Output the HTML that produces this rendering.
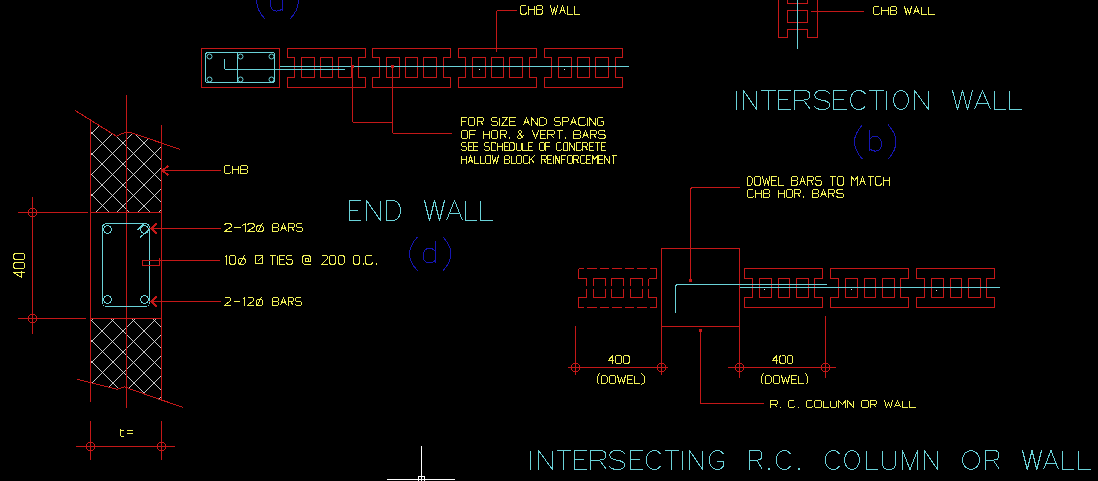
<!DOCTYPE html>
<html><head><meta charset="utf-8"><style>html,body{margin:0;padding:0;background:#000;overflow:hidden;font-family:"Liberation Sans",sans-serif}svg{display:block;will-change:transform}</style></head>
<body><svg width="1098" height="481" viewBox="0 0 1098 481" shape-rendering="crispEdges">
<rect width="1098" height="481" fill="#000"/>
<path d="M264.8,-14.900000000000006C259.3,-8.900000000000006 256.8,-4.050000000000011 256.8,1.9499999999999886C256.8,7.949999999999989 259.3,12.799999999999983 264.8,18.799999999999983M290.3,-14.900000000000006C295.8,-8.900000000000006 298.3,-4.050000000000011 298.3,1.9499999999999886C298.3,7.949999999999989 295.8,12.799999999999983 290.3,18.799999999999983M282.8,-10.900000000000006V10.599999999999994M282.8,-0.4000000000000057C281.3,-2.5999999999999943 278.8,-3.5999999999999943 276.5,-3.5999999999999943C272.8,-3.5999999999999943 270.3,-0.4000000000000057 270.3,3.799999999999983C270.3,8.099999999999994 272.8,11.099999999999994 276.5,11.099999999999994C278.8,11.099999999999994 281.3,10.099999999999994 282.8,7.900000000000006" fill="none" stroke="#1616b4" stroke-width="1" />
<rect x="201.5" y="48.5" width="78" height="39" fill="none" stroke="#c41818"/>
<rect x="205.5" y="52.5" width="69" height="30" rx="2.5" fill="none" stroke="#6ad2d8"/>
<line x1="237.5" y1="52.5" x2="237.5" y2="82.5" stroke="#6ad2d8" stroke-width="1" />
<circle cx="209.5" cy="56.5" r="2.5" fill="none" stroke="#6ad2d8" stroke-width="1" shape-rendering="geometricPrecision"/>
<circle cx="209.5" cy="79.5" r="2.5" fill="none" stroke="#6ad2d8" stroke-width="1" shape-rendering="geometricPrecision"/>
<circle cx="240.5" cy="56.5" r="2.5" fill="none" stroke="#6ad2d8" stroke-width="1" shape-rendering="geometricPrecision"/>
<circle cx="240.5" cy="79.5" r="2.5" fill="none" stroke="#6ad2d8" stroke-width="1" shape-rendering="geometricPrecision"/>
<circle cx="271.5" cy="56.5" r="2.5" fill="none" stroke="#6ad2d8" stroke-width="1" shape-rendering="geometricPrecision"/>
<circle cx="271.5" cy="79.5" r="2.5" fill="none" stroke="#6ad2d8" stroke-width="1" shape-rendering="geometricPrecision"/>
<path d="M287.5,48.5H365.5V57.5H358.5V77.5H365.5V87.5H287.5V77.5H294.5V57.5H287.5ZM301.5,57.5H314.5V77.5H301.5ZM320.5,57.5H332.5V77.5H320.5ZM338.5,57.5H351.5V77.5H338.5Z" fill="none" stroke="#c41818" stroke-width="1" />
<path d="M372.5,48.5H450.5V57.5H443.5V77.5H450.5V87.5H372.5V77.5H379.5V57.5H372.5ZM386.5,57.5H399.5V77.5H386.5ZM405.5,57.5H417.5V77.5H405.5ZM423.5,57.5H436.5V77.5H423.5Z" fill="none" stroke="#c41818" stroke-width="1" />
<path d="M458.5,48.5H536.5V57.5H529.5V77.5H536.5V87.5H458.5V77.5H465.5V57.5H458.5ZM472.5,57.5H485.5V77.5H472.5ZM491.5,57.5H503.5V77.5H491.5ZM509.5,57.5H522.5V77.5H509.5Z" fill="none" stroke="#c41818" stroke-width="1" />
<path d="M544.5,48.5H622.5V57.5H615.5V77.5H622.5V87.5H544.5V77.5H551.5V57.5H544.5ZM558.5,57.5H571.5V77.5H558.5ZM577.5,57.5H589.5V77.5H577.5ZM595.5,57.5H608.5V77.5H595.5Z" fill="none" stroke="#c41818" stroke-width="1" />
<path d="M224.5,59V67Q224.5,69.5 227,69.5H345" fill="none" stroke="#6ad2d8" stroke-width="1" />
<line x1="280" y1="66.5" x2="628.5" y2="66.5" stroke="#6ad2d8" stroke-width="1" />
<circle cx="479.5" cy="69.5" r="0.9" fill="#dedede"/>
<circle cx="564.5" cy="69.5" r="0.9" fill="#dedede"/>
<circle cx="352.5" cy="66.5" r="1.5" fill="#c41818"/>
<circle cx="392.5" cy="66.5" r="1.5" fill="#c41818"/>
<path d="M352.5,66.5V120Q352.5,122.5 355,122.5H392.5" fill="none" stroke="#c41818" stroke-width="1" />
<path d="M392.5,66.5V131Q392.5,133.5 395,133.5H452" fill="none" stroke="#c41818" stroke-width="1" />
<path d="M496.5,52V12.5Q496.5,10.5 498.5,10.5H517" fill="none" stroke="#c41818" stroke-width="1" />
<defs><clipPath id="hu"><path d="M90.5,119.8 L116.5,136.3 Q123,132 130.5,132.5 L161.5,143 V212.5 H90.5Z"/></clipPath><clipPath id="hl"><path d="M90.5,318.5 H161.5 V400.5 L129.9,388.9 L124.9,386.8 L117.4,389.3 L90.5,382.6Z"/></clipPath></defs>
<g clip-path="url(#hu)"><path d="M80,-296.10L170,-206.10M80,-272.30L170,-362.30M80,-275.25L170,-185.25M80,-251.45L170,-341.45M80,-254.40L170,-164.40M80,-230.60L170,-320.60M80,-233.55L170,-143.55M80,-209.75L170,-299.75M80,-212.70L170,-122.70M80,-188.90L170,-278.90M80,-191.85L170,-101.85M80,-168.05L170,-258.05M80,-171.00L170,-81.00M80,-147.20L170,-237.20M80,-150.15L170,-60.15M80,-126.35L170,-216.35M80,-129.30L170,-39.30M80,-105.50L170,-195.50M80,-108.45L170,-18.45M80,-84.65L170,-174.65M80,-87.60L170,2.40M80,-63.80L170,-153.80M80,-66.75L170,23.25M80,-42.95L170,-132.95M80,-45.90L170,44.10M80,-22.10L170,-112.10M80,-25.05L170,64.95M80,-1.25L170,-91.25M80,-4.20L170,85.80M80,19.60L170,-70.40M80,16.65L170,106.65M80,40.45L170,-49.55M80,37.50L170,127.50M80,61.30L170,-28.70M80,58.35L170,148.35M80,82.15L170,-7.85M80,79.20L170,169.20M80,103.00L170,13.00M80,100.05L170,190.05M80,123.85L170,33.85M80,120.90L170,210.90M80,144.70L170,54.70M80,141.75L170,231.75M80,165.55L170,75.55M80,162.60L170,252.60M80,186.40L170,96.40M80,183.45L170,273.45M80,207.25L170,117.25M80,204.30L170,294.30M80,228.10L170,138.10M80,225.15L170,315.15M80,248.95L170,158.95M80,246.00L170,336.00M80,269.80L170,179.80M80,266.85L170,356.85M80,290.65L170,200.65M80,287.70L170,377.70M80,311.50L170,221.50M80,308.55L170,398.55M80,332.35L170,242.35M80,329.40L170,419.40M80,353.20L170,263.20M80,350.25L170,440.25M80,374.05L170,284.05M80,371.10L170,461.10M80,394.90L170,304.90M80,391.95L170,481.95M80,415.75L170,325.75M80,412.80L170,502.80M80,436.60L170,346.60M80,433.65L170,523.65M80,457.45L170,367.45M80,454.50L170,544.50M80,478.30L170,388.30M80,475.35L170,565.35M80,499.15L170,409.15M80,496.20L170,586.20M80,520.00L170,430.00M80,517.05L170,607.05M80,540.85L170,450.85M80,537.90L170,627.90M80,561.70L170,471.70M80,558.75L170,648.75M80,582.55L170,492.55M80,579.60L170,669.60M80,603.40L170,513.40M80,600.45L170,690.45M80,624.25L170,534.25M80,621.30L170,711.30M80,645.10L170,555.10M80,642.15L170,732.15M80,665.95L170,575.95M80,663.00L170,753.00M80,686.80L170,596.80M80,683.85L170,773.85M80,707.65L170,617.65M80,704.70L170,794.70M80,728.50L170,638.50M80,725.55L170,815.55M80,749.35L170,659.35" fill="none" stroke="#dedede" stroke-width="0.9"/></g>
<g clip-path="url(#hl)"><path d="M80,-296.10L170,-206.10M80,-272.30L170,-362.30M80,-275.25L170,-185.25M80,-251.45L170,-341.45M80,-254.40L170,-164.40M80,-230.60L170,-320.60M80,-233.55L170,-143.55M80,-209.75L170,-299.75M80,-212.70L170,-122.70M80,-188.90L170,-278.90M80,-191.85L170,-101.85M80,-168.05L170,-258.05M80,-171.00L170,-81.00M80,-147.20L170,-237.20M80,-150.15L170,-60.15M80,-126.35L170,-216.35M80,-129.30L170,-39.30M80,-105.50L170,-195.50M80,-108.45L170,-18.45M80,-84.65L170,-174.65M80,-87.60L170,2.40M80,-63.80L170,-153.80M80,-66.75L170,23.25M80,-42.95L170,-132.95M80,-45.90L170,44.10M80,-22.10L170,-112.10M80,-25.05L170,64.95M80,-1.25L170,-91.25M80,-4.20L170,85.80M80,19.60L170,-70.40M80,16.65L170,106.65M80,40.45L170,-49.55M80,37.50L170,127.50M80,61.30L170,-28.70M80,58.35L170,148.35M80,82.15L170,-7.85M80,79.20L170,169.20M80,103.00L170,13.00M80,100.05L170,190.05M80,123.85L170,33.85M80,120.90L170,210.90M80,144.70L170,54.70M80,141.75L170,231.75M80,165.55L170,75.55M80,162.60L170,252.60M80,186.40L170,96.40M80,183.45L170,273.45M80,207.25L170,117.25M80,204.30L170,294.30M80,228.10L170,138.10M80,225.15L170,315.15M80,248.95L170,158.95M80,246.00L170,336.00M80,269.80L170,179.80M80,266.85L170,356.85M80,290.65L170,200.65M80,287.70L170,377.70M80,311.50L170,221.50M80,308.55L170,398.55M80,332.35L170,242.35M80,329.40L170,419.40M80,353.20L170,263.20M80,350.25L170,440.25M80,374.05L170,284.05M80,371.10L170,461.10M80,394.90L170,304.90M80,391.95L170,481.95M80,415.75L170,325.75M80,412.80L170,502.80M80,436.60L170,346.60M80,433.65L170,523.65M80,457.45L170,367.45M80,454.50L170,544.50M80,478.30L170,388.30M80,475.35L170,565.35M80,499.15L170,409.15M80,496.20L170,586.20M80,520.00L170,430.00M80,517.05L170,607.05M80,540.85L170,450.85M80,537.90L170,627.90M80,561.70L170,471.70M80,558.75L170,648.75M80,582.55L170,492.55M80,579.60L170,669.60M80,603.40L170,513.40M80,600.45L170,690.45M80,624.25L170,534.25M80,621.30L170,711.30M80,645.10L170,555.10M80,642.15L170,732.15M80,665.95L170,575.95M80,663.00L170,753.00M80,686.80L170,596.80M80,683.85L170,773.85M80,707.65L170,617.65M80,704.70L170,794.70M80,728.50L170,638.50M80,725.55L170,815.55M80,749.35L170,659.35" fill="none" stroke="#dedede" stroke-width="0.9"/></g>
<line x1="90.5" y1="119.8" x2="90.5" y2="401.8" stroke="#c41818" stroke-width="1" />
<line x1="126.5" y1="95" x2="126.5" y2="407.5" stroke="#c41818" stroke-width="1" />
<line x1="161.5" y1="125" x2="161.5" y2="401" stroke="#c41818" stroke-width="1" />
<path d="M75,110.4L116.5,136.3Q123,132 130.5,132.5L180,149.3" fill="none" stroke="#c41818" stroke-width="1" />
<path d="M77.2,379.3L117.4,389.3L124.9,386.8L129.9,388.9L182.9,407.4" fill="none" stroke="#c41818" stroke-width="1" />
<line x1="18" y1="212.5" x2="88" y2="212.5" stroke="#c41818" stroke-width="1" />
<line x1="90.5" y1="212.5" x2="161.5" y2="212.5" stroke="#c41818" stroke-width="1" />
<line x1="18" y1="318.5" x2="86" y2="318.5" stroke="#c41818" stroke-width="1" />
<line x1="90.5" y1="318.5" x2="161.5" y2="318.5" stroke="#c41818" stroke-width="1" />
<line x1="32.5" y1="197" x2="32.5" y2="333.5" stroke="#c41818" stroke-width="1" />
<path d="M36.82,213.36L36.16,214.94L34.94,216.16L33.36,216.82L31.64,216.82L30.06,216.16L28.84,214.94L28.18,213.36L28.18,211.64L28.84,210.06L30.06,208.84L31.64,208.18L33.36,208.18L34.94,208.84L36.16,210.06L36.82,211.64Z" fill="none" stroke="#c41818" stroke-width="1"/>
<path d="M36.82,319.36L36.16,320.94L34.94,322.16L33.36,322.82L31.64,322.82L30.06,322.16L28.84,320.94L28.18,319.36L28.18,317.64L28.84,316.06L30.06,314.84L31.64,314.18L33.36,314.18L34.94,314.84L36.16,316.06L36.82,317.64Z" fill="none" stroke="#c41818" stroke-width="1"/>
<rect x="102.5" y="223.5" width="47" height="83" rx="4" fill="none" stroke="#6ad2d8"/>
<path d="M111.42,230.28L110.83,231.72L109.72,232.83L108.28,233.42L106.72,233.42L105.28,232.83L104.17,231.72L103.58,230.28L103.58,228.72L104.17,227.28L105.28,226.17L106.72,225.58L108.28,225.58L109.72,226.17L110.83,227.28L111.42,228.72Z" fill="none" stroke="#6ad2d8" stroke-width="1"/>
<path d="M111.42,300.28L110.83,301.72L109.72,302.83L108.28,303.42L106.72,303.42L105.28,302.83L104.17,301.72L103.58,300.28L103.58,298.72L104.17,297.28L105.28,296.17L106.72,295.58L108.28,295.58L109.72,296.17L110.83,297.28L111.42,298.72Z" fill="none" stroke="#6ad2d8" stroke-width="1"/>
<path d="M148.42,230.28L147.83,231.72L146.72,232.83L145.28,233.42L143.72,233.42L142.28,232.83L141.17,231.72L140.58,230.28L140.58,228.72L141.17,227.28L142.28,226.17L143.72,225.58L145.28,225.58L146.72,226.17L147.83,227.28L148.42,228.72Z" fill="none" stroke="#6ad2d8" stroke-width="1"/>
<path d="M148.42,300.28L147.83,301.72L146.72,302.83L145.28,303.42L143.72,303.42L142.28,302.83L141.17,301.72L140.58,300.28L140.58,298.72L141.17,297.28L142.28,296.17L143.72,295.58L145.28,295.58L146.72,296.17L147.83,297.28L148.42,298.72Z" fill="none" stroke="#6ad2d8" stroke-width="1"/>
<path d="M140,237.5L149.5,229M137.5,230L143.5,224" fill="none" stroke="#6ad2d8" stroke-width="1" />
<line x1="161.5" y1="170.5" x2="221" y2="170.5" stroke="#c41818" stroke-width="1" />
<path d="M168.5,165.5L162.5,170.5L168.5,175.5" fill="none" stroke="#c41818" stroke-width="2" />
<line x1="150" y1="228.5" x2="221" y2="228.5" stroke="#c41818" stroke-width="1" />
<path d="M157,223.5L151,228.5L157,233.5" fill="none" stroke="#c41818" stroke-width="2" />
<line x1="150" y1="301.5" x2="221" y2="301.5" stroke="#c41818" stroke-width="1" />
<path d="M157,296.5L151,301.5L157,306.5" fill="none" stroke="#c41818" stroke-width="2" />
<path d="M142.5,265.5V260.5H220M142.5,265.5H159.5V257.5" fill="none" stroke="#c41818" stroke-width="1" />
<line x1="76" y1="446.5" x2="175" y2="446.5" stroke="#c41818" stroke-width="1" />
<line x1="90.5" y1="421" x2="90.5" y2="460" stroke="#c41818" stroke-width="1" />
<line x1="161.5" y1="421" x2="161.5" y2="460" stroke="#c41818" stroke-width="1" />
<path d="M94.82,447.36L94.16,448.94L92.94,450.16L91.36,450.82L89.64,450.82L88.06,450.16L86.84,448.94L86.18,447.36L86.18,445.64L86.84,444.06L88.06,442.84L89.64,442.18L91.36,442.18L92.94,442.84L94.16,444.06L94.82,445.64Z" fill="none" stroke="#c41818" stroke-width="1"/>
<path d="M165.82,447.36L165.16,448.94L163.94,450.16L162.36,450.82L160.64,450.82L159.06,450.16L157.84,448.94L157.18,447.36L157.18,445.64L157.84,444.06L159.06,442.84L160.64,442.18L162.36,442.18L163.94,442.84L165.16,444.06L165.82,445.64Z" fill="none" stroke="#c41818" stroke-width="1"/>
<rect x="661.5" y="248.5" width="78" height="78" fill="none" stroke="#c41818"/>
<line x1="661.5" y1="326.5" x2="661.5" y2="374.5" stroke="#c41818" stroke-width="1" />
<line x1="739.5" y1="326.5" x2="739.5" y2="377.5" stroke="#c41818" stroke-width="1" />
<line x1="575.5" y1="326" x2="575.5" y2="374.5" stroke="#c41818" stroke-width="1" />
<line x1="825.5" y1="316" x2="825.5" y2="377.5" stroke="#c41818" stroke-width="1" />
<line x1="568" y1="367.5" x2="668" y2="367.5" stroke="#c41818" stroke-width="1" />
<line x1="728" y1="367.5" x2="836" y2="367.5" stroke="#c41818" stroke-width="1" />
<path d="M579.62,368.32L578.99,369.83L577.83,370.99L576.32,371.62L574.68,371.62L573.17,370.99L572.01,369.83L571.38,368.32L571.38,366.68L572.01,365.17L573.17,364.01L574.68,363.38L576.32,363.38L577.83,364.01L578.99,365.17L579.62,366.68Z" fill="none" stroke="#c41818" stroke-width="1"/>
<path d="M665.62,368.32L664.99,369.83L663.83,370.99L662.32,371.62L660.68,371.62L659.17,370.99L658.01,369.83L657.38,368.32L657.38,366.68L658.01,365.17L659.17,364.01L660.68,363.38L662.32,363.38L663.83,364.01L664.99,365.17L665.62,366.68Z" fill="none" stroke="#c41818" stroke-width="1"/>
<path d="M743.62,368.32L742.99,369.83L741.83,370.99L740.32,371.62L738.68,371.62L737.17,370.99L736.01,369.83L735.38,368.32L735.38,366.68L736.01,365.17L737.17,364.01L738.68,363.38L740.32,363.38L741.83,364.01L742.99,365.17L743.62,366.68Z" fill="none" stroke="#c41818" stroke-width="1"/>
<path d="M829.62,368.32L828.99,369.83L827.83,370.99L826.32,371.62L824.68,371.62L823.17,370.99L822.01,369.83L821.38,368.32L821.38,366.68L822.01,365.17L823.17,364.01L824.68,363.38L826.32,363.38L827.83,364.01L828.99,365.17L829.62,366.68Z" fill="none" stroke="#c41818" stroke-width="1"/>
<path d="M578.5,268.5H656.5" fill="none" stroke="#c41818" stroke-width="1" stroke-dasharray="9.5 3" stroke-dashoffset="4"/>
<path d="M578.5,307.5H656.5" fill="none" stroke="#c41818" stroke-width="1" stroke-dasharray="9.5 3" stroke-dashoffset="4"/>
<path d="M656.5,268.5V278.5H648.5M656.5,307.5V297.5H648.5M578.5,268.5V278.5H586.5M578.5,307.5V297.5H586.5M586.5,278.5V286.0M586.5,289.0V297.5M648.5,278.5V286.0M648.5,289.0V297.5M593.5,286.0V278.5H605.5V286.0M593.5,289.0V297.5H605.5V289.0M611.5,286.0V278.5H623.5V286.0M611.5,289.0V297.5H623.5V289.0M630.5,286.0V278.5H642.5V286.0M630.5,289.0V297.5H642.5V289.0" fill="none" stroke="#c41818" stroke-width="1" />
<path d="M744.5,268.5H822.5V278.5H814.5V297.5H822.5V307.5H744.5V297.5H752.5V278.5H744.5ZM759.5,278.5H771.5V297.5H759.5ZM778.5,278.5H789.5V297.5H778.5ZM796.5,278.5H808.5V297.5H796.5Z" fill="none" stroke="#c41818" stroke-width="1" />
<path d="M830.5,268.5H908.5V278.5H900.5V297.5H908.5V307.5H830.5V297.5H838.5V278.5H830.5ZM845.5,278.5H857.5V297.5H845.5ZM864.5,278.5H875.5V297.5H864.5ZM882.5,278.5H894.5V297.5H882.5Z" fill="none" stroke="#c41818" stroke-width="1" />
<path d="M916.5,268.5H994.5V278.5H986.5V297.5H994.5V307.5H916.5V297.5H924.5V278.5H916.5ZM931.5,278.5H943.5V297.5H931.5ZM950.5,278.5H961.5V297.5H950.5ZM968.5,278.5H980.5V297.5H968.5Z" fill="none" stroke="#c41818" stroke-width="1" />
<path d="M675.5,313V287Q675.5,284.5 678,284.5H826.8" fill="none" stroke="#6ad2d8" stroke-width="1" />
<line x1="740" y1="287.5" x2="1000" y2="287.5" stroke="#6ad2d8" stroke-width="1" />
<circle cx="764.5" cy="289.5" r="0.9" fill="#dedede"/>
<circle cx="851.5" cy="289.5" r="0.9" fill="#dedede"/>
<circle cx="936.5" cy="290.5" r="0.9" fill="#dedede"/>
<circle cx="690.5" cy="280.5" r="1.5" fill="#c41818"/>
<path d="M690.5,280.5V190Q690.5,187.5 693,187.5H739.5" fill="none" stroke="#c41818" stroke-width="1" />
<circle cx="700.5" cy="330.5" r="1.5" fill="#c41818"/>
<path d="M700.5,330.5V403.5H764" fill="none" stroke="#c41818" stroke-width="1" />
<path d="M778.5,-1V37.5H787.5V29.5H807.5V37.5H817.5V-1" fill="none" stroke="#c41818" stroke-width="1" />
<path d="M787.5,10.5H807.5V22.5H787.5ZM787.5,-2V3.5H807.5V-2" fill="none" stroke="#c41818" stroke-width="1" />
<line x1="797.5" y1="0" x2="797.5" y2="48.5" stroke="#6ad2d8" stroke-width="1" />
<line x1="811" y1="11.5" x2="864" y2="11.5" stroke="#c41818" stroke-width="1" />
<path d="M736.50,90.50L736.50,109.50M743.50,109.50L743.50,90.50L756.50,109.50L756.50,90.50M760.50,90.50L775.50,90.50M768.00,90.50L768.00,109.50M790.50,90.50L778.50,90.50L778.50,109.50L790.50,109.50M778.50,99.62L788.10,99.62M794.50,109.50L794.50,90.50L804.42,90.50C808.26,90.50 809.70,92.59 809.70,95.25C809.70,97.91 808.26,100.00 804.42,100.00L794.50,100.00M803.30,100.00L810.50,109.50M829.50,93.54C828.00,91.45 825.30,90.50 822.00,90.50C817.50,90.50 814.80,92.40 814.80,95.44C814.80,98.48 817.50,99.43 822.00,100.19C826.80,100.95 829.50,102.28 829.50,104.94C829.50,107.98 826.20,109.50 822.00,109.50C818.10,109.50 815.70,108.17 814.50,106.27M846.50,90.50L833.50,90.50L833.50,109.50L846.50,109.50M833.50,99.62L843.90,99.62M865.50,94.30C864.00,91.64 861.60,90.50 858.60,90.50C853.80,90.50 850.50,94.68 850.50,100.00C850.50,105.32 853.80,109.50 858.60,109.50C861.60,109.50 864.00,108.36 865.50,105.70M868.50,90.50L883.50,90.50M876.00,90.50L876.00,109.50M886.50,90.50L886.50,109.50M901.00,90.50C896.86,90.50 893.50,94.75 893.50,100.00C893.50,105.25 896.86,109.50 901.00,109.50C905.14,109.50 908.50,105.25 908.50,100.00C908.50,94.75 905.14,90.50 901.00,90.50M914.50,109.50L914.50,90.50L928.50,109.50L928.50,90.50M952.50,90.50L957.50,109.50L962.50,90.50L967.50,109.50L972.50,90.50M974.50,109.50L982.50,90.50L990.50,109.50M977.54,103.23L987.46,103.23M994.50,90.50L994.50,109.50L1005.50,109.50M1009.50,90.50L1009.50,109.50L1021.50,109.50M360.50,200.50L349.50,200.50L349.50,220.50L360.50,220.50M349.50,210.10L358.30,210.10M366.50,220.50L366.50,200.50L380.50,220.50L380.50,200.50M386.50,200.50L386.50,220.50L392.38,220.50C397.70,220.50 400.50,216.10 400.50,210.50C400.50,204.90 397.70,200.50 392.38,200.50ZM424.50,200.50L429.50,220.50L434.50,200.50L439.50,220.50L444.50,200.50M446.50,220.50L454.50,200.50L462.50,220.50M449.54,213.90L459.46,213.90M465.50,200.50L465.50,220.50L476.50,220.50M480.50,200.50L480.50,220.50L492.50,220.50M530.50,450.50L530.50,469.50M538.50,469.50L538.50,450.50L552.50,469.50L552.50,450.50M556.50,450.50L570.50,450.50M563.50,450.50L563.50,469.50M586.50,450.50L574.50,450.50L574.50,469.50L586.50,469.50M574.50,459.62L584.10,459.62M590.50,469.50L590.50,450.50L600.42,450.50C604.26,450.50 605.70,452.59 605.70,455.25C605.70,457.91 604.26,460.00 600.42,460.00L590.50,460.00M599.30,460.00L606.50,469.50M624.50,453.54C623.00,451.45 620.30,450.50 617.00,450.50C612.50,450.50 609.80,452.40 609.80,455.44C609.80,458.48 612.50,459.43 617.00,460.19C621.80,460.95 624.50,462.28 624.50,464.94C624.50,467.98 621.20,469.50 617.00,469.50C613.10,469.50 610.70,468.17 609.50,466.27M642.50,450.50L630.50,450.50L630.50,469.50L642.50,469.50M630.50,459.62L640.10,459.62M660.50,454.30C659.10,451.64 656.86,450.50 654.06,450.50C649.58,450.50 646.50,454.68 646.50,460.00C646.50,465.32 649.58,469.50 654.06,469.50C656.86,469.50 659.10,468.36 660.50,465.70M664.50,450.50L678.50,450.50M671.50,450.50L671.50,469.50M682.50,450.50L682.50,469.50M689.50,469.50L689.50,450.50L702.50,469.50L702.50,450.50M723.50,454.30C722.10,451.64 719.86,450.50 717.06,450.50C712.58,450.50 709.50,454.68 709.50,460.00C709.50,465.32 712.58,469.50 717.06,469.50C719.86,469.50 722.10,468.36 723.50,465.70L723.50,461.90L716.50,461.90M749.50,469.50L749.50,450.50L757.56,450.50C760.68,450.50 761.85,452.59 761.85,455.25C761.85,457.91 760.68,460.00 757.56,460.00L749.50,460.00M756.65,460.00L762.50,469.50M768.10,468.90a1,1 0 1,0 2,0a1,1 0 1,0 -2,0M790.50,454.30C789.10,451.64 786.86,450.50 784.06,450.50C779.58,450.50 776.50,454.68 776.50,460.00C776.50,465.32 779.58,469.50 784.06,469.50C786.86,469.50 789.10,468.36 790.50,465.70M798.10,468.90a1,1 0 1,0 2,0a1,1 0 1,0 -2,0M839.50,454.30C838.10,451.64 835.86,450.50 833.06,450.50C828.58,450.50 825.50,454.68 825.50,460.00C825.50,465.32 828.58,469.50 833.06,469.50C835.86,469.50 838.10,468.36 839.50,465.70M852.00,450.50C847.86,450.50 844.50,454.75 844.50,460.00C844.50,465.25 847.86,469.50 852.00,469.50C856.14,469.50 859.50,465.25 859.50,460.00C859.50,454.75 856.14,450.50 852.00,450.50M866.50,450.50L866.50,469.50L877.50,469.50M882.50,450.50L882.50,463.42C882.50,467.60 885.10,469.50 889.00,469.50C892.90,469.50 895.50,467.60 895.50,463.42L895.50,450.50M902.50,469.50L902.50,450.50L910.00,469.50L917.50,450.50L917.50,469.50M924.50,469.50L924.50,450.50L937.50,469.50L937.50,450.50M971.00,450.50C966.31,450.50 962.50,454.75 962.50,460.00C962.50,465.25 966.31,469.50 971.00,469.50C975.69,469.50 979.50,465.25 979.50,460.00C979.50,454.75 975.69,450.50 971.00,450.50M985.50,469.50L985.50,450.50L994.18,450.50C997.54,450.50 998.80,452.59 998.80,455.25C998.80,457.91 997.54,460.00 994.18,460.00L985.50,460.00M993.20,460.00L999.50,469.50M1022.50,450.50L1027.25,469.50L1032.00,450.50L1036.75,469.50L1041.50,450.50M1043.50,469.50L1051.00,450.50L1058.50,469.50M1046.35,463.23L1055.65,463.23M1062.50,450.50L1062.50,469.50L1073.50,469.50M1078.50,450.50L1078.50,469.50L1090.50,469.50" fill="none" stroke="#6ad2d8" stroke-width="1" stroke-linejoin="round"/>
<path d="M417.5,237C412.0,243 409.5,247.85 409.5,253.85C409.5,259.85 412.0,264.7 417.5,270.7M443,237C448.5,243 451,247.85 451,253.85C451,259.85 448.5,264.7 443,270.7M435.5,241V262.5M435.5,251.5C434,249.3 431.5,248.3 429.2,248.3C425.5,248.3 423,251.5 423,255.7C423,260 425.5,263 429.2,263C431.5,263 434,262 435.5,259.8" fill="none" stroke="#1616b4" stroke-width="1" />
<path d="M862.5,124.6C857.0,130.6 854.5,135.89999999999998 854.5,141.89999999999998C854.5,147.89999999999998 857.0,153.2 862.5,159.2M888,124.6C893.5,130.6 896,135.89999999999998 896,141.89999999999998C896,147.89999999999998 893.5,153.2 888,159.2M869.5,130.2V151.2M869.5,139.3C871,137.3 873.2,136.3 875.5,136.3C879,136.3 881.5,139.5 881.5,143.7C881.5,148 879,151.2 875.5,151.2C873.2,151.2 871,150.3 869.5,148.3" fill="none" stroke="#1616b4" stroke-width="1" />
<path d="M526.5,6.5L525.5,5.5L521.5,5.5L520.5,6.5L520.5,12.5L521.5,14.5L525.5,14.5L526.5,12.5M528.5,5.5L528.5,14.5M534.5,5.5L534.5,14.5M528.5,9.5L534.5,9.5M536.5,5.5L541.5,5.5L542.5,6.5L542.5,8.5L541.5,9.5L536.5,9.5M541.5,9.5L542.5,10.5L542.5,12.5L541.5,14.5L536.5,14.5L536.5,5.5M550.5,5.5L552.5,14.5L554.5,7.5L555.5,14.5L557.5,5.5M559.5,14.5L562.5,5.5L565.5,14.5M560.5,10.5L564.5,10.5M567.5,5.5L567.5,14.5L572.5,14.5M574.5,5.5L574.5,14.5L579.5,14.5M466.5,117.5L461.5,117.5L461.5,125.5M461.5,121.5L465.5,121.5M469.5,117.5L473.5,117.5L474.5,118.5L474.5,124.5L473.5,125.5L469.5,125.5L468.5,124.5L468.5,118.5L469.5,117.5M477.5,125.5L477.5,117.5L482.5,117.5L483.5,118.5L483.5,120.5L482.5,121.5L477.5,121.5M480.5,121.5L483.5,125.5M497.5,118.5L496.5,117.5L492.5,117.5L491.5,118.5L491.5,120.5L492.5,121.5L496.5,121.5L497.5,122.5L497.5,124.5L496.5,125.5L492.5,125.5L491.5,124.5M499.5,117.5L499.5,125.5M501.5,117.5L507.5,117.5L501.5,125.5L507.5,125.5M515.5,117.5L509.5,117.5L509.5,125.5L515.5,125.5M509.5,121.5L514.5,121.5M523.5,125.5L526.5,117.5L529.5,125.5M524.5,122.5L528.5,122.5M531.5,125.5L531.5,117.5L537.5,125.5L537.5,117.5M539.5,117.5L543.5,117.5L546.5,119.5L546.5,123.5L543.5,125.5L539.5,125.5L539.5,117.5M560.5,118.5L559.5,117.5L555.5,117.5L554.5,118.5L554.5,120.5L555.5,121.5L559.5,121.5L560.5,122.5L560.5,124.5L559.5,125.5L555.5,125.5L554.5,124.5M562.5,125.5L562.5,117.5L567.5,117.5L568.5,118.5L568.5,120.5L567.5,121.5L562.5,121.5M570.5,125.5L573.5,117.5L576.5,125.5M571.5,122.5L575.5,122.5M585.5,118.5L584.5,117.5L580.5,117.5L578.5,118.5L578.5,124.5L580.5,125.5L584.5,125.5L585.5,124.5M587.5,117.5L587.5,125.5M589.5,125.5L589.5,117.5L595.5,125.5L595.5,117.5M603.5,118.5L602.5,117.5L598.5,117.5L597.5,118.5L597.5,124.5L598.5,125.5L602.5,125.5L603.5,124.5L603.5,121.5L600.5,121.5M462.5,130.5L466.5,130.5L467.5,131.5L467.5,137.5L466.5,138.5L462.5,138.5L461.5,137.5L461.5,131.5L462.5,130.5M475.5,130.5L469.5,130.5L469.5,138.5M469.5,134.5L474.5,134.5M483.5,130.5L483.5,138.5M489.5,130.5L489.5,138.5M483.5,134.5L489.5,134.5M492.5,130.5L496.5,130.5L497.5,131.5L497.5,137.5L496.5,138.5L492.5,138.5L491.5,137.5L491.5,131.5L492.5,130.5M500.5,138.5L500.5,130.5L505.5,130.5L506.5,131.5L506.5,133.5L505.5,134.5L500.5,134.5M503.5,134.5L506.5,138.5M508.5,137.5L509.5,137.5L509.5,138.5L508.5,138.5M523.5,138.5L518.5,132.5L518.5,131.5L519.5,130.5L520.5,130.5L521.5,131.5L521.5,132.5L517.5,136.5L517.5,137.5L518.5,138.5L520.5,138.5L523.5,135.5M532.5,130.5L535.5,138.5L538.5,130.5M545.5,130.5L540.5,130.5L540.5,138.5L545.5,138.5M540.5,134.5L544.5,134.5M547.5,138.5L547.5,130.5L553.5,130.5L554.5,131.5L554.5,133.5L553.5,134.5L547.5,134.5M550.5,134.5L554.5,138.5M556.5,130.5L562.5,130.5M559.5,130.5L559.5,138.5M564.5,137.5L565.5,137.5L565.5,138.5L564.5,138.5M573.5,130.5L579.5,130.5L580.5,131.5L580.5,133.5L579.5,134.5L573.5,134.5M579.5,134.5L580.5,135.5L580.5,137.5L579.5,138.5L573.5,138.5L573.5,130.5M582.5,138.5L585.5,130.5L588.5,138.5M583.5,135.5L587.5,135.5M590.5,138.5L590.5,130.5L595.5,130.5L596.5,131.5L596.5,133.5L595.5,134.5L590.5,134.5M593.5,134.5L596.5,138.5M605.5,131.5L603.5,130.5L599.5,130.5L598.5,131.5L598.5,133.5L599.5,134.5L603.5,134.5L605.5,135.5L605.5,137.5L603.5,138.5L599.5,138.5L598.5,137.5M466.5,143.5L465.5,142.5L462.5,142.5L461.5,143.5L461.5,145.5L462.5,146.5L465.5,146.5L466.5,147.5L466.5,149.5L465.5,150.5L462.5,150.5L461.5,149.5M472.5,142.5L468.5,142.5L468.5,150.5L472.5,150.5M468.5,146.5L471.5,146.5M477.5,142.5L473.5,142.5L473.5,150.5L477.5,150.5M473.5,146.5L477.5,146.5M489.5,143.5L488.5,142.5L485.5,142.5L484.5,143.5L484.5,145.5L485.5,146.5L488.5,146.5L489.5,147.5L489.5,149.5L488.5,150.5L485.5,150.5L484.5,149.5M495.5,143.5L495.5,142.5L491.5,142.5L491.5,143.5L491.5,149.5L491.5,150.5L495.5,150.5L495.5,149.5M497.5,142.5L497.5,150.5M502.5,142.5L502.5,150.5M497.5,146.5L502.5,146.5M508.5,142.5L504.5,142.5L504.5,150.5L508.5,150.5M504.5,146.5L507.5,146.5M509.5,142.5L513.5,142.5L514.5,144.5L514.5,148.5L513.5,150.5L509.5,150.5L509.5,142.5M516.5,142.5L516.5,149.5L517.5,150.5L520.5,150.5L521.5,149.5L521.5,142.5M522.5,142.5L522.5,150.5L527.5,150.5M532.5,142.5L528.5,142.5L528.5,150.5L532.5,150.5M528.5,146.5L531.5,146.5M540.5,142.5L543.5,142.5L544.5,143.5L544.5,149.5L543.5,150.5L540.5,150.5L539.5,149.5L539.5,143.5L540.5,142.5M549.5,142.5L545.5,142.5L545.5,150.5M545.5,146.5L549.5,146.5M561.5,143.5L560.5,142.5L557.5,142.5L556.5,143.5L556.5,149.5L557.5,150.5L560.5,150.5L561.5,149.5M563.5,142.5L567.5,142.5L567.5,143.5L567.5,149.5L567.5,150.5L563.5,150.5L563.5,149.5L563.5,143.5L563.5,142.5M569.5,150.5L569.5,142.5L574.5,150.5L574.5,142.5M581.5,143.5L580.5,142.5L576.5,142.5L576.5,143.5L576.5,149.5L576.5,150.5L580.5,150.5L581.5,149.5M582.5,150.5L582.5,142.5L586.5,142.5L587.5,143.5L587.5,145.5L586.5,146.5L582.5,146.5M585.5,146.5L587.5,150.5M593.5,142.5L589.5,142.5L589.5,150.5L593.5,150.5M589.5,146.5L592.5,146.5M594.5,142.5L599.5,142.5M597.5,142.5L597.5,150.5M605.5,142.5L601.5,142.5L601.5,150.5L605.5,150.5M601.5,146.5L604.5,146.5M461.5,155.5L461.5,163.5M466.5,155.5L466.5,163.5M461.5,159.5L466.5,159.5M468.5,163.5L470.5,155.5L472.5,163.5M468.5,160.5L472.5,160.5M474.5,155.5L474.5,163.5L478.5,163.5M480.5,155.5L480.5,163.5L484.5,163.5M486.5,155.5L490.5,155.5L490.5,156.5L490.5,162.5L490.5,163.5L486.5,163.5L485.5,162.5L485.5,156.5L486.5,155.5M492.5,155.5L493.5,163.5L495.5,157.5L496.5,163.5L498.5,155.5M504.5,155.5L508.5,155.5L509.5,156.5L509.5,158.5L508.5,159.5L504.5,159.5M508.5,159.5L509.5,160.5L509.5,162.5L508.5,163.5L504.5,163.5L504.5,155.5M511.5,155.5L511.5,163.5L515.5,163.5M517.5,155.5L520.5,155.5L521.5,156.5L521.5,162.5L520.5,163.5L517.5,163.5L516.5,162.5L516.5,156.5L517.5,155.5M528.5,156.5L527.5,155.5L524.5,155.5L523.5,156.5L523.5,162.5L524.5,163.5L527.5,163.5L528.5,162.5M529.5,155.5L529.5,163.5M534.5,155.5L529.5,160.5M531.5,159.5L534.5,163.5M541.5,163.5L541.5,155.5L545.5,155.5L546.5,156.5L546.5,158.5L545.5,159.5L541.5,159.5M543.5,159.5L546.5,163.5M551.5,155.5L547.5,155.5L547.5,163.5L551.5,163.5M547.5,159.5L550.5,159.5M553.5,155.5L553.5,163.5M555.5,163.5L555.5,155.5L559.5,163.5L559.5,155.5M565.5,155.5L561.5,155.5L561.5,163.5M561.5,159.5L564.5,159.5M568.5,155.5L571.5,155.5L572.5,156.5L572.5,162.5L571.5,163.5L568.5,163.5L567.5,162.5L567.5,156.5L568.5,155.5M573.5,163.5L573.5,155.5L577.5,155.5L578.5,156.5L578.5,158.5L577.5,159.5L573.5,159.5M576.5,159.5L578.5,163.5M585.5,156.5L584.5,155.5L581.5,155.5L580.5,156.5L580.5,162.5L581.5,163.5L584.5,163.5L585.5,162.5M590.5,155.5L586.5,155.5L586.5,163.5L590.5,163.5M586.5,159.5L589.5,159.5M592.5,163.5L592.5,155.5L594.5,159.5L597.5,155.5L597.5,163.5M602.5,155.5L598.5,155.5L598.5,163.5L602.5,163.5M598.5,159.5L602.5,159.5M604.5,163.5L604.5,155.5L609.5,163.5L609.5,155.5M611.5,155.5L616.5,155.5M613.5,155.5L613.5,163.5M230.5,166.5L229.5,165.5L225.5,165.5L224.5,166.5L224.5,172.5L225.5,173.5L229.5,173.5L230.5,172.5M232.5,165.5L232.5,173.5M238.5,165.5L238.5,173.5M232.5,169.5L238.5,169.5M240.5,165.5L246.5,165.5L247.5,166.5L247.5,168.5L246.5,169.5L240.5,169.5M246.5,169.5L247.5,170.5L247.5,172.5L246.5,173.5L240.5,173.5L240.5,165.5M224.5,224.5L226.5,223.5L229.5,223.5L231.5,224.5L231.5,226.5L224.5,231.5L231.5,231.5M233.5,227.5L240.5,227.5M242.5,225.5L245.5,223.5L245.5,231.5M247.5,224.5L249.5,223.5L252.5,223.5L254.5,224.5L254.5,226.5L247.5,231.5L254.5,231.5M257.5,225.5L261.5,225.5L263.5,227.5L263.5,230.5L261.5,231.5L257.5,231.5L256.5,230.5L256.5,227.5L257.5,225.5M257.5,232.5L262.5,223.5M272.5,223.5L277.5,223.5L278.5,224.5L278.5,226.5L277.5,227.5L272.5,227.5M277.5,227.5L278.5,228.5L278.5,230.5L277.5,231.5L272.5,231.5L272.5,223.5M280.5,231.5L283.5,223.5L286.5,231.5M281.5,228.5L285.5,228.5M288.5,231.5L288.5,223.5L293.5,223.5L294.5,224.5L294.5,226.5L293.5,227.5L288.5,227.5M291.5,227.5L294.5,231.5M302.5,224.5L301.5,223.5L297.5,223.5L296.5,224.5L296.5,226.5L297.5,227.5L301.5,227.5L302.5,228.5L302.5,230.5L301.5,231.5L297.5,231.5L296.5,230.5M224.5,257.5L226.5,255.5L226.5,264.5M230.5,255.5L234.5,255.5L235.5,256.5L235.5,262.5L234.5,264.5L230.5,264.5L229.5,262.5L229.5,256.5L230.5,255.5M239.5,258.5L243.5,258.5L245.5,259.5L245.5,262.5L243.5,264.5L239.5,264.5L238.5,262.5L238.5,259.5L239.5,258.5M239.5,264.5L244.5,255.5M269.5,255.5L275.5,255.5M272.5,255.5L272.5,264.5M277.5,255.5L277.5,264.5M284.5,255.5L279.5,255.5L279.5,264.5L284.5,264.5M279.5,259.5L283.5,259.5M292.5,256.5L291.5,255.5L287.5,255.5L286.5,256.5L286.5,258.5L287.5,259.5L291.5,259.5L292.5,260.5L292.5,262.5L291.5,264.5L287.5,264.5L286.5,262.5M308.5,261.5L308.5,258.5L305.5,258.5L305.5,261.5L310.5,261.5L310.5,256.5L308.5,255.5L304.5,255.5L302.5,256.5L302.5,262.5L304.5,264.5L310.5,264.5M321.5,256.5L322.5,255.5L326.5,255.5L327.5,256.5L327.5,258.5L321.5,264.5L327.5,264.5M330.5,255.5L334.5,255.5L335.5,256.5L335.5,262.5L334.5,264.5L330.5,264.5L329.5,262.5L329.5,256.5L330.5,255.5M339.5,255.5L342.5,255.5L344.5,256.5L344.5,262.5L342.5,264.5L339.5,264.5L338.5,262.5L338.5,256.5L339.5,255.5M354.5,255.5L358.5,255.5L359.5,256.5L359.5,262.5L358.5,264.5L354.5,264.5L353.5,262.5L353.5,256.5L354.5,255.5M362.5,263.5L363.5,263.5L363.5,264.5L362.5,264.5M372.5,256.5L371.5,255.5L366.5,255.5L365.5,256.5L365.5,262.5L366.5,264.5L371.5,264.5L372.5,262.5M375.5,263.5L376.5,263.5L376.5,264.5L375.5,264.5M224.5,298.5L225.5,297.5L229.5,297.5L230.5,298.5L230.5,300.5L224.5,305.5L230.5,305.5M233.5,301.5L239.5,301.5M242.5,299.5L244.5,297.5L244.5,305.5M247.5,298.5L248.5,297.5L252.5,297.5L253.5,298.5L253.5,300.5L247.5,305.5L253.5,305.5M257.5,299.5L261.5,299.5L262.5,300.5L262.5,304.5L261.5,305.5L257.5,305.5L256.5,304.5L256.5,300.5L257.5,299.5M256.5,306.5L261.5,297.5M272.5,297.5L277.5,297.5L278.5,298.5L278.5,300.5L277.5,301.5L272.5,301.5M277.5,301.5L278.5,302.5L278.5,304.5L277.5,305.5L272.5,305.5L272.5,297.5M280.5,305.5L283.5,297.5L286.5,305.5M281.5,302.5L285.5,302.5M288.5,305.5L288.5,297.5L292.5,297.5L293.5,298.5L293.5,300.5L292.5,301.5L288.5,301.5M290.5,301.5L293.5,305.5M301.5,298.5L300.5,297.5L296.5,297.5L295.5,298.5L295.5,300.5L296.5,301.5L300.5,301.5L301.5,302.5L301.5,304.5L300.5,305.5L296.5,305.5L295.5,304.5M120.5,428.5L120.5,435.5L121.5,436.5L123.5,436.5M119.5,430.5L123.5,430.5M126.5,430.5L132.5,430.5M126.5,433.5L132.5,433.5M879.5,7.5L878.5,6.5L874.5,6.5L873.5,7.5L873.5,13.5L874.5,14.5L878.5,14.5L879.5,13.5M881.5,6.5L881.5,14.5M888.5,6.5L888.5,14.5M881.5,10.5L888.5,10.5M890.5,6.5L895.5,6.5L896.5,7.5L896.5,9.5L895.5,10.5L890.5,10.5M895.5,10.5L896.5,11.5L896.5,13.5L895.5,14.5L890.5,14.5L890.5,6.5M904.5,6.5L906.5,14.5L907.5,8.5L909.5,14.5L911.5,6.5M913.5,14.5L916.5,6.5L919.5,14.5M914.5,11.5L918.5,11.5M921.5,6.5L921.5,14.5L926.5,14.5M928.5,6.5L928.5,14.5L934.5,14.5M747.5,176.5L750.5,176.5L752.5,178.5L752.5,182.5L750.5,185.5L747.5,185.5L747.5,176.5M755.5,176.5L759.5,176.5L760.5,177.5L760.5,183.5L759.5,185.5L755.5,185.5L754.5,183.5L754.5,177.5L755.5,176.5M762.5,176.5L764.5,185.5L766.5,178.5L768.5,185.5L769.5,176.5M776.5,176.5L771.5,176.5L771.5,185.5L776.5,185.5M771.5,180.5L775.5,180.5M778.5,176.5L778.5,185.5L783.5,185.5M791.5,176.5L796.5,176.5L797.5,177.5L797.5,179.5L796.5,180.5L791.5,180.5M796.5,180.5L797.5,181.5L797.5,183.5L796.5,185.5L791.5,185.5L791.5,176.5M799.5,185.5L802.5,176.5L805.5,185.5M800.5,181.5L804.5,181.5M807.5,185.5L807.5,176.5L812.5,176.5L813.5,177.5L813.5,179.5L812.5,180.5L807.5,180.5M810.5,180.5L813.5,185.5M821.5,177.5L820.5,176.5L816.5,176.5L815.5,177.5L815.5,179.5L816.5,180.5L820.5,180.5L821.5,181.5L821.5,183.5L820.5,185.5L816.5,185.5L815.5,183.5M829.5,176.5L835.5,176.5M832.5,176.5L832.5,185.5M838.5,176.5L842.5,176.5L843.5,177.5L843.5,183.5L842.5,185.5L838.5,185.5L837.5,183.5L837.5,177.5L838.5,176.5M851.5,185.5L851.5,176.5L854.5,180.5L857.5,176.5L857.5,185.5M859.5,185.5L862.5,176.5L865.5,185.5M860.5,181.5L864.5,181.5M867.5,176.5L873.5,176.5M870.5,176.5L870.5,185.5M881.5,177.5L880.5,176.5L876.5,176.5L875.5,177.5L875.5,183.5L876.5,185.5L880.5,185.5L881.5,183.5M883.5,176.5L883.5,185.5M889.5,176.5L889.5,185.5M883.5,180.5L889.5,180.5M753.5,190.5L752.5,189.5L748.5,189.5L747.5,190.5L747.5,196.5L748.5,197.5L752.5,197.5L753.5,196.5M755.5,189.5L755.5,197.5M761.5,189.5L761.5,197.5M755.5,193.5L761.5,193.5M763.5,189.5L768.5,189.5L769.5,190.5L769.5,192.5L768.5,193.5L763.5,193.5M768.5,193.5L769.5,194.5L769.5,196.5L768.5,197.5L763.5,197.5L763.5,189.5M778.5,189.5L778.5,197.5M784.5,189.5L784.5,197.5M778.5,193.5L784.5,193.5M787.5,189.5L791.5,189.5L792.5,190.5L792.5,196.5L791.5,197.5L787.5,197.5L786.5,196.5L786.5,190.5L787.5,189.5M794.5,197.5L794.5,189.5L799.5,189.5L800.5,190.5L800.5,192.5L799.5,193.5L794.5,193.5M797.5,193.5L800.5,197.5M802.5,196.5L803.5,196.5L803.5,197.5L802.5,197.5M812.5,189.5L817.5,189.5L818.5,190.5L818.5,192.5L817.5,193.5L812.5,193.5M817.5,193.5L818.5,194.5L818.5,196.5L817.5,197.5L812.5,197.5L812.5,189.5M820.5,197.5L823.5,189.5L826.5,197.5M821.5,194.5L825.5,194.5M828.5,197.5L828.5,189.5L833.5,189.5L834.5,190.5L834.5,192.5L833.5,193.5L828.5,193.5M831.5,193.5L834.5,197.5M843.5,190.5L842.5,189.5L838.5,189.5L836.5,190.5L836.5,192.5L838.5,193.5L842.5,193.5L843.5,194.5L843.5,196.5L842.5,197.5L838.5,197.5L836.5,196.5M612.5,363.5L612.5,355.5L608.5,360.5L613.5,360.5M616.5,355.5L620.5,355.5L621.5,356.5L621.5,362.5L620.5,363.5L616.5,363.5L615.5,362.5L615.5,356.5L616.5,355.5M624.5,355.5L627.5,355.5L629.5,356.5L629.5,362.5L627.5,363.5L624.5,363.5L623.5,362.5L623.5,356.5L624.5,355.5M599.5,373.5L597.5,376.5L597.5,382.5L599.5,384.5M601.5,375.5L605.5,375.5L607.5,377.5L607.5,381.5L605.5,383.5L601.5,383.5L601.5,375.5M610.5,375.5L614.5,375.5L615.5,376.5L615.5,382.5L614.5,383.5L610.5,383.5L609.5,382.5L609.5,376.5L610.5,375.5M617.5,375.5L619.5,383.5L621.5,377.5L623.5,383.5L625.5,375.5M632.5,375.5L627.5,375.5L627.5,383.5L632.5,383.5M627.5,379.5L631.5,379.5M634.5,375.5L634.5,383.5L639.5,383.5M641.5,373.5L644.5,376.5L644.5,382.5L641.5,384.5M776.5,363.5L776.5,355.5L772.5,360.5L777.5,360.5M781.5,355.5L784.5,355.5L785.5,356.5L785.5,362.5L784.5,363.5L781.5,363.5L779.5,362.5L779.5,356.5L781.5,355.5M788.5,355.5L791.5,355.5L792.5,356.5L792.5,362.5L791.5,363.5L788.5,363.5L787.5,362.5L787.5,356.5L788.5,355.5M763.5,373.5L761.5,376.5L761.5,382.5L763.5,384.5M765.5,375.5L769.5,375.5L771.5,377.5L771.5,381.5L769.5,383.5L765.5,383.5L765.5,375.5M774.5,375.5L778.5,375.5L779.5,376.5L779.5,382.5L778.5,383.5L774.5,383.5L773.5,382.5L773.5,376.5L774.5,375.5M781.5,375.5L783.5,383.5L785.5,377.5L787.5,383.5L789.5,375.5M796.5,375.5L791.5,375.5L791.5,383.5L796.5,383.5M791.5,379.5L795.5,379.5M798.5,375.5L798.5,383.5L803.5,383.5M805.5,373.5L807.5,376.5L807.5,382.5L805.5,384.5M770.5,407.5L770.5,400.5L776.5,400.5L777.5,401.5L777.5,403.5L776.5,404.5L770.5,404.5M774.5,404.5L777.5,407.5M779.5,407.5L780.5,407.5L780.5,407.5L779.5,407.5M794.5,401.5L793.5,400.5L789.5,400.5L788.5,401.5L788.5,406.5L789.5,407.5L793.5,407.5L794.5,406.5M797.5,407.5L798.5,407.5L798.5,407.5L797.5,407.5M812.5,401.5L811.5,400.5L807.5,400.5L806.5,401.5L806.5,406.5L807.5,407.5L811.5,407.5L812.5,406.5M815.5,400.5L820.5,400.5L821.5,401.5L821.5,406.5L820.5,407.5L815.5,407.5L814.5,406.5L814.5,401.5L815.5,400.5M823.5,400.5L823.5,407.5L828.5,407.5M830.5,400.5L830.5,406.5L831.5,407.5L835.5,407.5L836.5,406.5L836.5,400.5M838.5,407.5L838.5,400.5L842.5,404.5L845.5,400.5L845.5,407.5M847.5,407.5L847.5,400.5L853.5,407.5L853.5,400.5M862.5,400.5L867.5,400.5L868.5,401.5L868.5,406.5L867.5,407.5L862.5,407.5L861.5,406.5L861.5,401.5L862.5,400.5M870.5,407.5L870.5,400.5L875.5,400.5L876.5,401.5L876.5,403.5L875.5,404.5L870.5,404.5M873.5,404.5L876.5,407.5M884.5,400.5L886.5,407.5L888.5,402.5L890.5,407.5L892.5,400.5M894.5,407.5L897.5,400.5L900.5,407.5M895.5,405.5L899.5,405.5M902.5,400.5L902.5,407.5L907.5,407.5M909.5,400.5L909.5,407.5L915.5,407.5M24.5,272.5L13.5,272.5L21.5,277.5L21.5,270.5M13.5,267.5L13.5,263.5L15.5,262.5L23.5,262.5L24.5,263.5L24.5,267.5L23.5,268.5L15.5,268.5L13.5,267.5M13.5,258.5L13.5,254.5L15.5,253.5L23.5,253.5L24.5,254.5L24.5,258.5L23.5,259.5L15.5,259.5L13.5,258.5" fill="none" stroke="#f2f258" stroke-width="1" stroke-linejoin="bevel"/>
<path d="M255.5,255.5H262.5V263.5H255.5ZM257.5,261.5L261.5,257.5" fill="none" stroke="#f2f258" stroke-width="1" />
<line x1="387" y1="479.5" x2="455" y2="479.5" stroke="#ffffff" stroke-width="1" />
<line x1="421.5" y1="446" x2="421.5" y2="481" stroke="#ffffff" stroke-width="1" />
<rect x="418.5" y="476.5" width="6" height="6" fill="none" stroke="#fff"/>
</svg></body></html>
